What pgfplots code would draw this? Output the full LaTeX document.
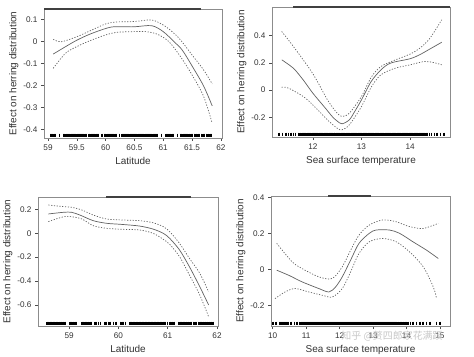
\documentclass[border=0pt]{standalone}
\usepackage{pgfplots}
\pgfplotsset{compat=1.18}
\usepackage{fontspec}
\setmainfont{Liberation Sans}
\newfontfamily\cjk{Noto Sans CJK SC}
\definecolor{curve}{gray}{0.38}
\definecolor{frame}{gray}{0.55}
\tikzset{topedge/.style={black!75, line width=1.1pt}}
\pgfplotsset{
  gam/.style={
    scale only axis,
    axis line style={frame, line width=0.6pt},
    tick style={black!70, line width=0.5pt},
    tick align=outside,
    major tick length=3bp,
    xtick pos=bottom, ytick pos=left,
    ticklabel style={font=\fontsize{8.2}{10}\selectfont, text=black!80},
    label style={font=\fontsize{10}{12}\selectfont, text=black!80},
    ylabel={Effect on herring distribution},
    ylabel style={yshift=-2bp},
    xlabel style={yshift=0bp},
    clip=false,
  },
  fit/.style={curve, line width=0.7pt, smooth},
  band/.style={curve, line width=0.7pt, smooth, dash pattern=on 1.2pt off 1.6pt},
  rug/.style={only marks, mark=|, mark size=1.8bp, black, line width=1.5pt,
    every mark/.append style={yshift=2.6bp}},
}
\begin{document}
\begin{tikzpicture}
\path[use as bounding box] (0,0) rectangle (474bp,357bp);

% ---------- Panel 1: Latitude (top left)
\begin{axis}[gam, at={(44bp,219bp)}, anchor=south west,
  width=178bp, height=129bp,
  xmin=58.93, xmax=62.02, ymin=-0.44, ymax=0.147,
  xtick={59,59.5,60,60.5,61,61.5,62}, xticklabels={59,59.5,60,60.5,61,61.5,62},
  ytick={-0.4,-0.3,-0.2,-0.1,0,0.1}, yticklabels={-0.4,-0.3,-0.2,-0.1,0,0.1},
  xlabel={Latitude}]
\addplot[fit] coordinates {(59.09,-0.058) (59.3,-0.025) (59.5,0.005) (59.75,0.035) (60.08,0.064) (60.3,0.066) (60.5,0.066) (60.8,0.071) (61.0,0.044) (61.2,-0.005) (61.33,-0.04) (61.5,-0.112) (61.7,-0.203) (61.85,-0.294)};
\addplot[band] coordinates {(59.09,0.009) (59.23,-0.002) (59.5,0.021) (59.75,0.05) (60.0,0.079) (60.2,0.088) (60.5,0.09) (60.8,0.097) (61.0,0.074) (61.15,0.045) (61.3,0.006) (61.5,-0.062) (61.7,-0.13) (61.85,-0.194)};
\addplot[band] coordinates {(59.09,-0.123) (59.3,-0.055) (59.5,-0.024) (59.75,0.005) (60.0,0.029) (60.2,0.041) (60.5,0.044) (60.7,0.044) (60.9,0.032) (61.1,-0.002) (61.3,-0.07) (61.5,-0.153) (61.7,-0.25) (61.85,-0.373)};
\addplot[rug] table[y expr=-0.44] {
x
59.04
59.06
59.08
59.10
59.12
59.20
59.27
59.29
59.31
59.33
59.35
59.37
59.40
59.42
59.44
59.46
59.48
59.50
59.52
59.54
59.56
59.58
59.60
59.62
59.64
59.66
59.71
59.75
59.77
59.79
59.81
59.83
59.85
59.88
59.94
59.98
60.00
60.02
60.04
60.06
60.08
60.10
60.12
60.14
60.16
60.18
60.24
60.28
60.30
60.32
60.34
60.36
60.38
60.40
60.42
60.44
60.46
60.48
60.50
60.52
60.54
60.56
60.58
60.60
60.62
60.64
60.66
60.68
60.70
60.72
60.74
60.76
60.78
60.80
60.82
60.84
60.86
60.88
60.90
60.97
61.05
61.07
61.09
61.11
61.13
61.15
61.17
61.25
61.30
61.32
61.34
61.36
61.38
61.40
61.42
61.45
61.48
61.51
61.54
61.57
61.60
61.63
61.66
61.69
61.72
61.75
61.78
61.81
61.84
};
\draw[topedge] (axis description cs:0,1) -- (axis description cs:0.88,1);
\end{axis}

% ---------- Panel 2: SST (top right)
\begin{axis}[gam, at={(272bp,220bp)}, anchor=south west,
  width=178bp, height=130bp,
  xmin=11.16, xmax=14.82, ymin=-0.345, ymax=0.61,
  xtick={12,13,14}, xticklabels={12,13,14},
  ytick={-0.2,0,0.2,0.4}, yticklabels={-0.2,0,0.2,0.4},
  xlabel={Sea surface temperature}]
\addplot[fit] coordinates {(11.36,0.222) (11.6,0.16) (11.8,0.075) (12.0,-0.023) (12.25,-0.13) (12.4,-0.195) (12.5,-0.228) (12.6,-0.248) (12.75,-0.219) (12.86,-0.158) (13.0,-0.072) (13.2,0.063) (13.4,0.148) (13.6,0.198) (14.0,0.23) (14.2,0.26) (14.4,0.3) (14.65,0.351)};
\addplot[band] coordinates {(11.36,0.43) (11.6,0.32) (12,0.12) (12.3,-0.072) (12.5,-0.17) (12.6,-0.194) (12.75,-0.17) (13,-0.047) (13.2,0.094) (13.4,0.173) (13.7,0.222) (14,0.264) (14.2,0.308) (14.4,0.377) (14.65,0.516)};
\addplot[band] coordinates {(11.36,0.021) (11.5,0.014) (11.8,-0.047) (12,-0.109) (12.3,-0.219) (12.5,-0.28) (12.6,-0.292) (12.75,-0.256) (13,-0.121) (13.2,0.021) (13.4,0.112) (13.7,0.161) (14,0.185) (14.3,0.21) (14.5,0.2) (14.65,0.185)};
\addplot[rug] table[y expr=-0.345] {
x
11.30
11.38
11.45
11.50
11.55
11.60
11.64
11.70
11.74
11.78
11.80
11.83
11.85
11.88
11.90
11.93
11.95
11.98
12.00
12.03
12.05
12.08
12.10
12.13
12.15
12.18
12.20
12.23
12.25
12.28
12.30
12.33
12.35
12.38
12.40
12.43
12.45
12.48
12.50
12.53
12.55
12.58
12.60
12.63
12.65
12.68
12.70
12.73
12.75
12.78
12.80
12.83
12.85
12.88
12.90
12.93
12.95
12.98
13.00
13.03
13.05
13.08
13.10
13.13
13.15
13.18
13.20
13.23
13.25
13.28
13.30
13.33
13.35
13.38
13.40
13.43
13.45
13.48
13.50
13.53
13.55
13.58
13.60
13.63
13.65
13.68
13.70
13.73
13.75
13.78
13.80
13.83
13.85
13.88
13.90
13.93
13.95
13.98
14.00
14.03
14.05
14.08
14.10
14.13
14.15
14.18
14.20
14.23
14.25
14.28
14.30
14.33
14.36
14.40
14.44
14.50
14.55
14.62
14.70
};
\draw[topedge] (axis description cs:0.12,1) -- (axis description cs:1,1);
\end{axis}

% ---------- Panel 3: Latitude (bottom left)
\begin{axis}[gam, at={(38bp,31bp)}, anchor=south west,
  width=180bp, height=129bp,
  xmin=58.37, xmax=62.02, ymin=-0.776, ymax=0.303,
  xtick={59,60,61,62}, xticklabels={59,60,61,62},
  ytick={-0.6,-0.4,-0.2,0,0.2}, yticklabels={-0.6,-0.4,-0.2,0,0.2},
  xlabel={Latitude}]
\addplot[fit] coordinates {(58.58,0.161) (58.89,0.175) (59.05,0.175) (59.22,0.152) (59.49,0.105) (59.76,0.083) (60.06,0.074) (60.43,0.06) (60.70,0.035) (60.91,-0.001) (61.04,-0.043) (61.24,-0.14) (61.44,-0.28) (61.65,-0.447) (61.83,-0.6)};
\addplot[band] coordinates {(58.58,0.236) (58.89,0.222) (59.05,0.217) (59.26,0.194) (59.49,0.152) (59.76,0.119) (60.06,0.111) (60.43,0.105) (60.70,0.088) (60.91,0.055) (61.04,0.013) (61.24,-0.085) (61.44,-0.21) (61.65,-0.335) (61.83,-0.49)};
\addplot[band] coordinates {(58.58,0.097) (58.89,0.138) (59.05,0.138) (59.26,0.119) (59.49,0.063) (59.76,0.041) (60.06,0.033) (60.43,0.027) (60.70,0.0) (60.91,-0.051) (61.04,-0.093) (61.24,-0.196) (61.44,-0.349) (61.65,-0.517) (61.83,-0.698)};
\addplot[rug] table[y expr=-0.776] {
x
58.55
58.58
58.61
58.64
58.67
58.70
58.73
58.76
58.80
58.84
58.88
58.92
59.02
59.05
59.08
59.12
59.15
59.26
59.29
59.32
59.35
59.38
59.42
59.45
59.53
59.56
59.60
59.64
59.73
59.76
59.80
59.83
59.90
59.95
60.04
60.07
60.10
60.14
60.24
60.27
60.30
60.33
60.36
60.39
60.42
60.45
60.48
60.51
60.54
60.57
60.60
60.63
60.66
60.69
60.72
60.75
60.78
60.81
60.84
60.87
60.90
60.93
60.96
61.00
61.05
61.09
61.13
61.22
61.25
61.28
61.31
61.34
61.37
61.41
61.45
61.48
61.52
61.55
61.58
61.62
61.65
61.68
61.72
61.76
61.80
61.84
61.88
61.92
};
\draw[topedge] (axis description cs:0.38,1) -- (axis description cs:0.85,1);
\end{axis}

% ---------- Panel 4: SST (bottom right)
\begin{axis}[gam, at={(271bp,31bp)}, anchor=south west,
  width=179bp, height=130bp,
  xmin=9.95, xmax=15.3, ymin=-0.315, ymax=0.407,
  xtick={10,11,12,13,14,15}, xticklabels={10,11,12,13,14,15},
  ytick={-0.2,0,0.2,0.4}, yticklabels={-0.2,0,0.2,0.4},
  xlabel={Sea surface temperature}]
\addplot[fit] coordinates {(10.12,-0.005) (10.5,-0.035) (10.88,-0.07) (11.38,-0.107) (11.68,-0.126) (11.88,-0.098) (12.08,-0.042) (12.33,0.051) (12.58,0.144) (12.89,0.2) (13.09,0.218) (13.49,0.218) (13.79,0.2) (14.19,0.153) (14.6,0.106) (14.95,0.06)};
\addplot[band] coordinates {(10.12,0.144) (10.58,0.042) (10.88,0.004) (11.38,-0.042) (11.78,-0.051) (12.08,0.014) (12.33,0.106) (12.58,0.19) (12.89,0.246) (13.29,0.274) (13.69,0.264) (14.09,0.237) (14.5,0.227) (14.95,0.255)};
\addplot[band] coordinates {(10.07,-0.163) (10.37,-0.126) (10.67,-0.107) (11.08,-0.126) (11.48,-0.144) (11.78,-0.154) (12.08,-0.107) (12.33,-0.014) (12.58,0.088) (12.89,0.153) (13.29,0.171) (13.69,0.153) (14.09,0.097) (14.5,0.014) (14.8,-0.098) (14.9,-0.163)};
\addplot[rug] table[y expr=-0.315] {
x
10.01
10.10
10.20
10.23
10.26
10.29
10.32
10.35
10.38
10.41
10.44
10.47
10.55
10.65
10.72
10.80
10.85
10.88
10.91
10.94
10.97
11.00
11.03
11.06
11.09
11.12
11.15
11.18
11.21
11.24
11.27
11.30
11.33
11.36
11.39
11.42
11.45
11.48
11.51
11.54
11.57
11.60
11.63
11.66
11.69
11.72
11.75
11.78
11.81
11.84
11.87
11.90
11.93
11.96
11.99
12.02
12.05
12.08
12.11
12.14
12.17
12.20
12.23
12.26
12.29
12.32
12.35
12.38
12.41
12.44
12.47
12.50
12.53
12.56
12.59
12.62
12.65
12.68
12.71
12.74
12.77
12.80
12.83
12.86
12.89
12.92
12.95
12.98
13.01
13.04
13.07
13.10
13.13
13.16
13.19
13.22
13.25
13.28
13.31
13.34
13.37
13.40
13.43
13.46
13.49
13.52
13.55
13.58
13.61
13.64
13.67
13.70
13.75
13.80
13.85
13.90
13.95
14.00
14.05
14.12
14.20
14.30
14.40
14.50
14.60
14.70
14.90
15.00
};
\draw[topedge] (axis description cs:0.32,1) -- (axis description cs:0.56,1);
\end{axis}

\node[text=black!22, font=\cjk\fontsize{10}{12}\selectfont, anchor=center] at (392bp,20.5bp) {知乎 @赘四郎家花满蹊};
\end{tikzpicture}
\end{document}
